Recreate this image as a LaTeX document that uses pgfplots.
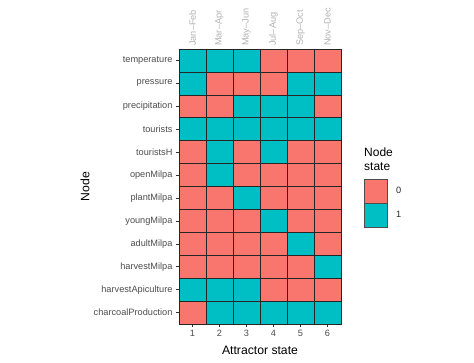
\documentclass[border=0pt]{standalone}
\usepackage{pgfplots}
\pgfplotsset{compat=1.18}
\usepackage{fontspec}
\setmainfont{Liberation Sans}
\definecolor{salmonc}{RGB}{248,118,109}
\definecolor{tealc}{RGB}{0,191,196}
\definecolor{tickgray}{RGB}{77,77,77}
\definecolor{topgray}{RGB}{178,178,178}
\pgfdeclareplotmark{cell}{\pgfpathrectangle{\pgfpoint{-13.5pt}{-11.4583pt}}{\pgfpoint{27pt}{22.9167pt}}\pgfusepathqfillstroke}
\begin{document}
\begin{tikzpicture}
\path[use as bounding box] (-179pt,-39pt) rectangle (295pt,324pt);
\begin{axis}[
  scale only axis, width=162pt, height=275pt,
  xmin=0.5, xmax=6.5, ymin=0.5, ymax=12.5, y dir=reverse,
  axis on top, clip=false,
  xtick={1,...,6}, ytick={1,...,12},
  yticklabels={temperature,pressure,precipitation,tourists,touristsH,openMilpa,plantMilpa,youngMilpa,adultMilpa,harvestMilpa,harvestApiculture,charcoalProduction},
  xtick pos=bottom, ytick pos=left, tick align=outside,
  major tick length=3pt,
  /pgf/number format/assume math mode=true,
  tick style={black!80, line width=0.5pt},
  axis line style={black!85, line width=0.5pt},
  tick label style={font=\fontsize{9.2}{11}\selectfont, text=tickgray},
  xlabel={Attractor state}, ylabel={Node},
  every axis x label/.style={at={(axis description cs:0.5,-0.095)},anchor=center,font=\fontsize{12.2}{14}\selectfont},
  every axis y label/.style={at={(axis description cs:-0.58,0.5)},rotate=90,anchor=center,font=\fontsize{12.2}{14}\selectfont},
  legend style={at={(axis description cs:1.142,0.527)}, anchor=north west, draw=none, fill=none, inner sep=0pt, row sep=0pt,
    font=\fontsize{9.2}{11}\selectfont, nodes={inner sep=0pt, text=black!85},
    /tikz/every odd column/.style={column sep=9pt}},
  legend image code/.code={\draw[#1, draw=black!70, line width=0.4pt] (0pt,-11.75pt) rectangle (22.5pt,11.75pt);},
]
\addplot[only marks, mark=cell, fill=salmonc, draw=black!85, line width=0.5pt] coordinates {
 (4,1) (5,1) (6,1)
 (2,2) (3,2) (4,2)
 (1,3) (2,3) (6,3)
 (1,5) (3,5) (5,5) (6,5)
 (1,6) (3,6) (4,6) (5,6) (6,6)
 (1,7) (2,7) (4,7) (5,7) (6,7)
 (1,8) (2,8) (3,8) (5,8) (6,8)
 (1,9) (2,9) (3,9) (4,9) (6,9)
 (1,10) (2,10) (3,10) (4,10) (5,10)
 (4,11) (5,11) (6,11)
 (1,12)
};
\addlegendentry{0}
\addplot[only marks, mark=cell, fill=tealc, draw=black!85, line width=0.5pt] coordinates {
 (1,1) (2,1) (3,1)
 (1,2) (5,2) (6,2)
 (3,3) (4,3) (5,3)
 (1,4) (2,4) (3,4) (4,4) (5,4) (6,4)
 (2,5) (4,5)
 (2,6)
 (3,7)
 (4,8)
 (5,9)
 (6,10)
 (1,11) (2,11) (3,11)
 (2,12) (3,12) (4,12) (5,12) (6,12)
};
\addlegendentry{1}
\node[anchor=north west, align=left, inner sep=0pt, font=\fontsize{12}{13.5}\selectfont] at (axis description cs:1.142,0.64) {Node\\state};
\end{axis}
\begin{axis}[
  scale only axis, width=162pt, height=275pt,
  xmin=0.5, xmax=6.5, ymin=0, ymax=1,
  hide y axis, axis x line*=top, x axis line style={draw=none},
  xtick={1,...,6}, major tick length=0pt,
  xticklabels={Jan–Feb,Mar–Apr,May–Jun,Jul–Aug,Sep–Oct,Nov–Dec},
  xticklabel style={rotate=90, anchor=west, font=\fontsize{9.2}{11}\selectfont, text=topgray, inner sep=3pt},
]
\end{axis}
\end{tikzpicture}
\end{document}
